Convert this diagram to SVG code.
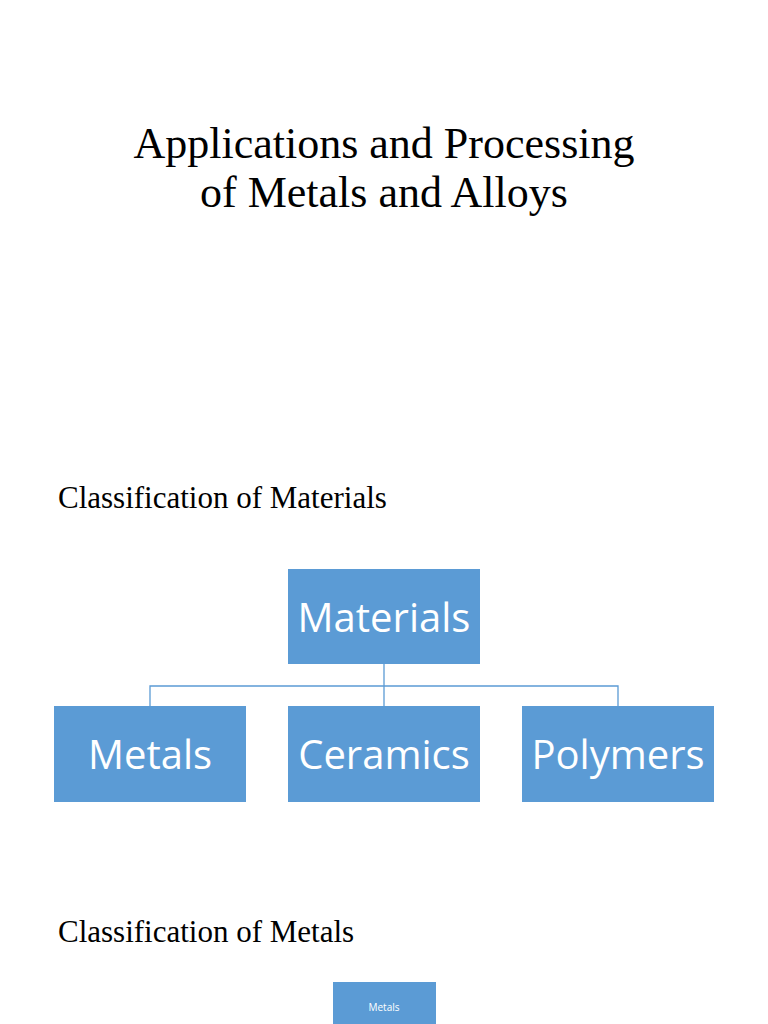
<svg xmlns="http://www.w3.org/2000/svg" width="768" height="1024" viewBox="0 0 768 1024">
<style>
.t{font-family:"Liberation Serif",serif;fill:#000}
.b{fill:#5b9bd5}
.l{font-family:"Open Sans","Noto Sans",sans-serif;fill:#fff;text-anchor:middle}
.c{stroke:#5b9bd5;stroke-width:1.3;fill:none}
</style>
<rect width="768" height="1024" fill="#fff"/>
<text class="t" x="384" y="158" font-size="44" text-anchor="middle">Applications and Processing</text>
<text class="t" x="384" y="207" font-size="44" text-anchor="middle">of Metals and Alloys</text>
<text class="t" x="58" y="508" font-size="31">Classification of Materials</text>
<text class="t" x="58" y="942" font-size="31">Classification of Metals</text>
<g id="connectors">
<path class="c" d="M384 664V686M150 706V686H618V706M384 686V706"/>
</g>
<g id="materials"><rect class="b" x="288" y="569" width="192" height="95"/><text class="l" x="384" y="632" font-size="40">Materials</text></g>
<g id="metals"><rect class="b" x="54" y="706" width="192" height="96"/><text class="l" x="150" y="769" font-size="40">Metals</text></g>
<g id="ceramics"><rect class="b" x="288" y="706" width="192" height="96"/><text class="l" x="384" y="769" font-size="40">Ceramics</text></g>
<g id="polymers"><rect class="b" x="522" y="706" width="192" height="96"/><text class="l" x="618" y="769" font-size="40">Polymers</text></g>
<g id="metals2"><rect class="b" x="333" y="982" width="103" height="42"/><text class="l" x="384" y="1011" font-size="10">Metals</text></g>
</svg>
